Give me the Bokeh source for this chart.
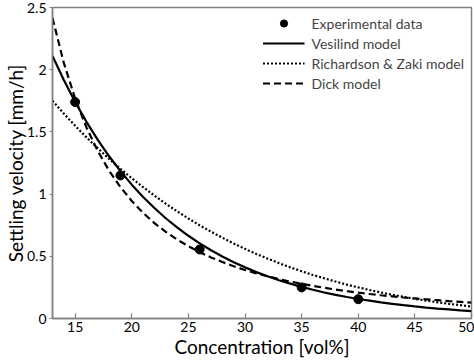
from bokeh.plotting import figure
from bokeh.models import Legend, LegendItem, FixedTicker
from bokeh.embed import file_html
from bokeh.resources import INLINE

# Experimental data
exp_conc = [15, 19, 26, 35, 40]
exp_vel = [1.74, 1.15, 0.555, 0.25, 0.155]

# Model curves
model_conc = list(range(13, 51))
vesilind = [2.110, 1.917, 1.741, 1.581, 1.436, 1.304, 1.185, 1.076, 0.977, 0.888,
            0.806, 0.732, 0.665, 0.604, 0.549, 0.498, 0.453, 0.411, 0.373, 0.339,
            0.308, 0.280, 0.254, 0.231, 0.209, 0.190, 0.173, 0.157, 0.143, 0.129,
            0.118, 0.107, 0.097, 0.088, 0.080, 0.073, 0.066, 0.060]
richardson_zaki = [1.750, 1.647, 1.549, 1.456, 1.368, 1.283, 1.204, 1.128, 1.056, 0.988,
                   0.923, 0.862, 0.804, 0.749, 0.698, 0.649, 0.603, 0.560, 0.519, 0.481,
                   0.445, 0.411, 0.380, 0.350, 0.323, 0.297, 0.272, 0.250, 0.229, 0.209,
                   0.191, 0.174, 0.158, 0.144, 0.130, 0.118, 0.107, 0.096]
dick = [2.416, 2.055, 1.768, 1.536, 1.346, 1.188, 1.056, 0.945, 0.849, 0.767,
        0.697, 0.635, 0.581, 0.533, 0.491, 0.454, 0.420, 0.390, 0.363, 0.339,
        0.317, 0.297, 0.279, 0.262, 0.247, 0.233, 0.220, 0.208, 0.197, 0.187,
        0.178, 0.169, 0.161, 0.154, 0.147, 0.140, 0.134, 0.128]

x_ticks = [15, 20, 25, 30, 35, 40, 45, 50]
y_ticks = [0, 0.5, 1, 1.5, 2, 2.5]

FONT = "Lato"

p = figure(width=474, height=360, x_range=(13, 50), y_range=(0, 2.5),
           output_backend="svg", toolbar_location=None,
           min_border_left=20, min_border_right=3, min_border_top=7, min_border_bottom=20)
p.grid.visible = False
p.outline_line_color = "#808080"
p.outline_line_width = 1.5

r_exp = p.scatter(exp_conc, exp_vel, size=9, color="black")
r_ves = p.line(model_conc, vesilind, line_width=2.2, color="black")
r_rz = p.line(model_conc, richardson_zaki, line_width=2.2, color="black", line_dash="2 2")
r_dick = p.line(model_conc, dick, line_width=2.2, color="black", line_dash="7 4")

p.xaxis.ticker = FixedTicker(ticks=x_ticks)
p.yaxis.ticker = FixedTicker(ticks=y_ticks)
p.yaxis.major_label_overrides = {0: "0", 0.5: "0.5", 1: "1", 1.5: "1.5", 2: "2", 2.5: "2.5"}

for ax in (p.xaxis[0], p.yaxis[0]):
    ax.axis_line_color = "#808080"
    ax.axis_line_width = 1.5
    ax.major_tick_line_color = "#808080"
    ax.major_tick_line_width = 1.2
    ax.minor_tick_line_color = None
    ax.major_label_text_font = FONT
    ax.major_label_text_font_size = "14px"
    ax.major_label_text_color = "black"
    ax.axis_label_text_font = FONT
    ax.axis_label_text_font_size = "19px"
    ax.axis_label_text_font_style = "normal"
    ax.axis_label_text_color = "black"

p.xaxis.major_tick_in = 5
p.xaxis.major_tick_out = 0
p.xaxis.major_label_standoff = 3
p.xaxis.axis_label = "Concentration [vol%]"
p.xaxis.axis_label_standoff = 0

p.yaxis.major_tick_in = 0
p.yaxis.major_tick_out = 3
p.yaxis.major_label_standoff = 3
p.yaxis.axis_label = "Settling velocity [mm/h]"
p.yaxis.axis_label_standoff = -3

legend = Legend(items=[
    LegendItem(label="Experimental data", renderers=[r_exp]),
    LegendItem(label="Vesilind model", renderers=[r_ves]),
    LegendItem(label="Richardson & Zaki model", renderers=[r_rz]),
    LegendItem(label="Dick model", renderers=[r_dick]),
], location="top_right")
legend.border_line_color = None
legend.background_fill_alpha = 0
legend.label_text_font = FONT
legend.label_text_font_size = "14px"
legend.glyph_width = 42
legend.glyph_height = 18
legend.label_standoff = 7
legend.spacing = 2
legend.padding = 2
legend.margin = 7
legend.label_height = 18
p.add_layout(legend)

open("out.html", "w").write(file_html(p, INLINE))
